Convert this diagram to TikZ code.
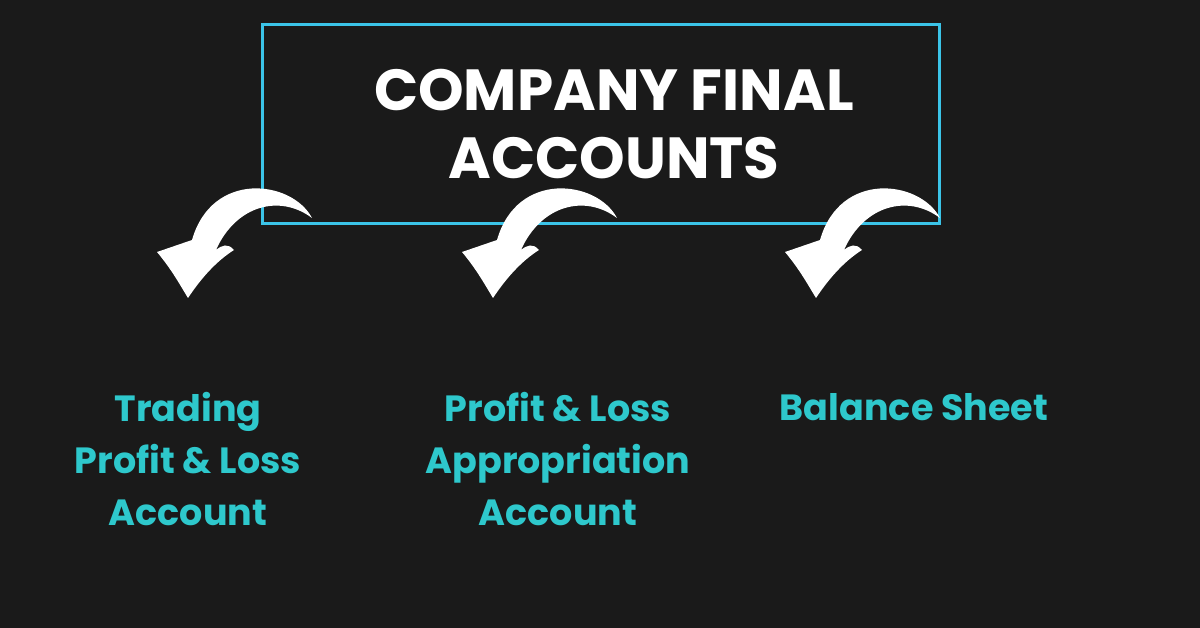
\documentclass[tikz,border=0pt]{standalone}
\usepackage{fontspec}
\setmainfont{Poppins}
\begin{document}
\begin{tikzpicture}[x=1pt,y=-1pt,
  lbl/.style={text=teal1,font=\fontsize{36.5}{52}\selectfont\bfseries,align=center},
  arr/.pic={\fill[white] (312,218) .. controls (292,180) and (212,170) .. (192,240)
     -- (157,252) .. controls (172,270) and (180,285) .. (188,298)
     .. controls (200,280) and (215,262) .. (234,250)
     .. controls (228,243) and (222,245) .. (216,250)
     .. controls (236,205) and (280,194) .. (312,218) -- cycle;}]
\definecolor{bg}{HTML}{1A1A1A}
\definecolor{teal1}{HTML}{2EC8CC}
\definecolor{cyan1}{HTML}{3BC4E8}
\fill[bg] (0,0) rectangle (1200,628);
\useasboundingbox (0,0) rectangle (1200,628);
\node[draw=cyan1,line width=3pt,minimum width=677pt,minimum height=199pt,anchor=north west] (box) at (261,23) {};
\node[text=white,font=\fontsize{58}{68}\selectfont\bfseries,align=center] (title) at (614,124) {COMPANY FINAL\\ACCOUNTS};
\pic (a1) at (0,0) {arr};
\pic (a2) at (305,0) {arr};
\pic (a3) at (628,0) {arr};
\node[lbl] (t1) at (188,459) {Trading\\Profit \& Loss\\Account};
\node[lbl] (t2) at (558,459) {Profit \& Loss\\Appropriation\\Account};
\node[lbl] (t3) at (914,407) {Balance Sheet};
\end{tikzpicture}
\end{document}
